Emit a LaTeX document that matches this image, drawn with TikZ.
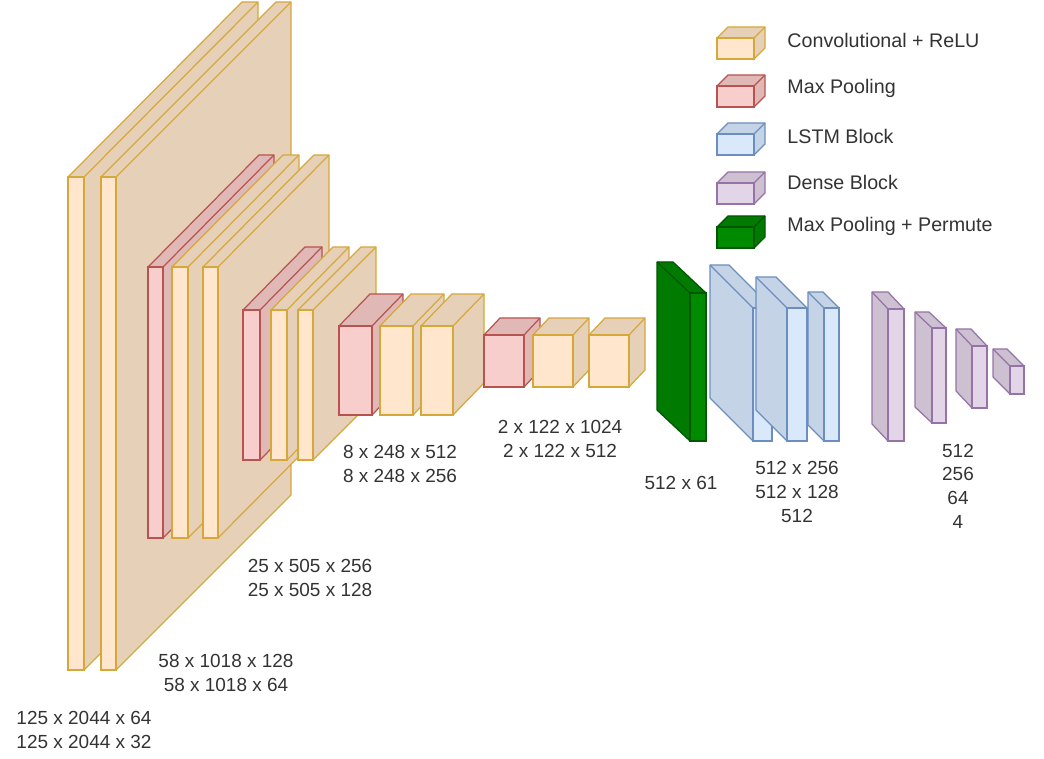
\documentclass[tikz,border=0pt]{standalone}
\usepackage{fontspec}
\setmainfont{Liberation Sans}
\definecolor{cf}{HTML}{FFE6CC}\definecolor{cs}{HTML}{E6D0B7}\definecolor{cd}{HTML}{D6A83A}
\definecolor{pf}{HTML}{F8CECC}\definecolor{ps}{HTML}{E0B8B6}\definecolor{pd}{HTML}{B85450}
\definecolor{bf}{HTML}{DAE8FC}\definecolor{bs}{HTML}{C5D3E6}\definecolor{bd}{HTML}{6C8EBF}
\definecolor{uf}{HTML}{E1D5E7}\definecolor{us}{HTML}{CCC0D1}\definecolor{ud}{HTML}{9673A6}
\definecolor{gf}{HTML}{008A00}\definecolor{gs}{HTML}{007A00}\definecolor{gd}{HTML}{005700}
\definecolor{txt}{HTML}{333333}
\tikzset{
 convS/.style={fill=cs,draw=cd},convF/.style={fill=cf,draw=cd},
 poolS/.style={fill=ps,draw=pd},poolF/.style={fill=pf,draw=pd},
 lstmS/.style={fill=bs,draw=bd},lstmF/.style={fill=bf,draw=bd},
 densS/.style={fill=us,draw=ud},densF/.style={fill=uf,draw=ud},
 grnS/.style={fill=gs,draw=gd},grnF/.style={fill=gf,draw=gd},
 lbl/.style={text=txt,font=\fontsize{10.8}{13.5}\selectfont,align=center},
 leg/.style={text=txt,font=\fontsize{11.2}{13}\selectfont,anchor=west},
}
% #1 x, #2 y, #3 w, #4 h, #5 dx, #6 dy, #7 kind
\newcommand\cubR[7]{%
 \draw[#7S,line join=round] (#1,#2) -- (#1+#5,#2+#6) -- (#1+#3+#5,#2+#6) -- (#1+#3+#5,#2+#4+#6) -- (#1+#3,#2+#4) -- (#1,#2+#4) -- cycle;
 \draw[#7S] (#1+#3,#2) -- (#1+#3+#5,#2+#6);
 \draw[#7F] (#1,#2) rectangle (#1+#3,#2+#4);}
\newcommand\cubL[7]{%
 \draw[#7S,line join=round] (#1,#2+#4) -- (#1+#5,#2+#4+#6) -- (#1+#5,#2+#6) -- (#1+#3+#5,#2+#6) -- (#1+#3,#2) -- (#1+#3,#2+#4) -- cycle;
 \draw[#7S] (#1,#2) -- (#1+#5,#2+#6);
 \draw[#7F] (#1,#2) rectangle (#1+#3,#2+#4);}
\begin{document}
\begin{tikzpicture}[x=0.02cm,y=-0.02cm,line width=0.7pt]
\useasboundingbox (0,0) rectangle (1044,759);
% block 1
\cubR{68}{177}{16}{493}{174}{-175}{conv}
\cubR{101}{177}{15}{493}{175}{-175}{conv}
% block 2
\cubR{148}{267}{15}{271}{111}{-112}{pool}
\cubR{172}{267}{16}{271}{111}{-112}{conv}
\cubR{203}{267}{15}{271}{111}{-112}{conv}
% block 3
\cubR{243}{310}{17}{150}{62}{-63}{pool}
\cubR{271}{310}{16}{150}{62}{-63}{conv}
\cubR{298}{310}{15}{150}{63}{-63}{conv}
% block 4
\cubR{339}{326}{33}{89}{31}{-32}{pool}
\cubR{380}{326}{33}{89}{31}{-32}{conv}
\cubR{421}{326}{32}{89}{31}{-32}{conv}
% block 5
\cubR{484}{335}{40}{52}{16}{-17}{pool}
\cubR{533}{335}{40}{52}{16}{-17}{conv}
\cubR{589}{335}{40}{52}{16}{-17}{conv}
% green
\cubL{690}{293}{16}{148}{-33}{-31}{grn}
% LSTM
\cubL{753}{308}{19}{133}{-43}{-43}{lstm}
\cubL{787}{308}{20}{133}{-31}{-31}{lstm}
\cubL{824}{308}{15}{133}{-16}{-16}{lstm}
% dense
\cubL{888}{309}{16}{132}{-16}{-17}{dens}
\cubL{932}{328}{14}{95}{-17}{-16}{dens}
\cubL{972}{346}{15}{62}{-16}{-17}{dens}
\cubL{1010}{366}{14}{28}{-17}{-17}{dens}
% labels
\node[lbl] (l1) at (84,730) {125 x 2044 x 64\\125 x 2044 x 32};
\node[lbl] (l2) at (226,673) {58 x 1018 x 128\\58 x 1018 x 64};
\node[lbl] (l3) at (310,578) {25 x 505 x 256\\25 x 505 x 128};
\node[lbl] (l4) at (400,464) {8 x 248 x 512\\8 x 248 x 256};
\node[lbl] (l5) at (560,439) {2 x 122 x 1024\\2 x 122 x 512};
\node[lbl] (l6) at (681,483) {512 x 61};
\node[lbl] (l7) at (797,492) {512 x 256\\512 x 128\\512};
\node[lbl] (l8) at (958,486) {512\\256\\64\\4};
% legend
\cubR{717}{38}{37}{21}{11}{-11}{conv}
\cubR{717}{86}{37}{21}{11}{-11}{pool}
\cubR{717}{134}{37}{21}{11}{-11}{lstm}
\cubR{717}{183}{37}{21}{11}{-11}{dens}
\cubR{717}{227}{37}{21}{11}{-11}{grn}
\node[leg] (g1) at (781,40) {Convolutional + ReLU};
\node[leg] (g2) at (781,88) {Max Pooling};
\node[leg] (g3) at (781,136) {LSTM Block};
\node[leg] (g4) at (781,182) {Dense Block};
\node[leg] (g5) at (781,226) {Max Pooling + Permute};
\end{tikzpicture}
\end{document}
